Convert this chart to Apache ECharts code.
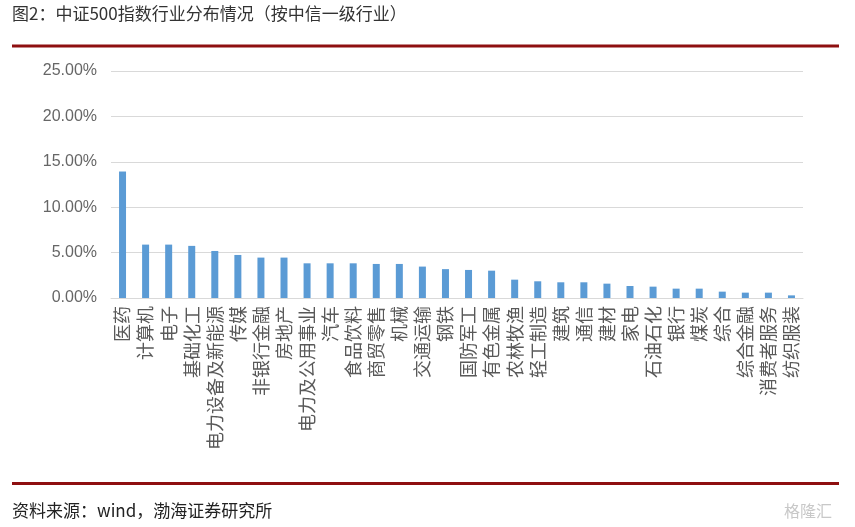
<!DOCTYPE html>
<html>
<head>
<meta charset="utf-8">
<script src="https://cdn.jsdelivr.net/npm/echarts@6/dist/echarts.min.js"></script>
<style>
html,body{margin:0;padding:0;background:#fff;}
#chart{width:855px;height:527px;}
</style>
</head>
<body>
<div id="chart"></div>
<script>
var titleText = '图2：中证500指数行业分布情况（按中信一级行业）';
var sourceText = '资料来源：wind，渤海证券研究所';
var categories = ['医药','计算机','电子','基础化工','电力设备及新能源','传媒','非银行金融','房地产','电力及公用事业','汽车','食品饮料','商贸零售','机械','交通运输','钢铁','国防军工','有色金属','农林牧渔','轻工制造','建筑','通信','建材','家电','石油石化','银行','煤炭','综合','综合金融','消费者服务','纺织服装'];
var weights = [13.93,5.88,5.88,5.74,5.18,4.74,4.45,4.45,3.82,3.82,3.82,3.75,3.75,3.46,3.18,3.09,3.01,2.02,1.84,1.73,1.73,1.58,1.32,1.25,1.03,1.03,0.70,0.59,0.59,0.29];
var yTicks = {min:0, max:25, interval:5};

var chart = echarts.init(document.getElementById('chart'), null, {renderer:'canvas'});
var cjk = '"Noto Sans CJK SC", "Noto Sans", sans-serif';
chart.setOption({
  animation:false,
  backgroundColor:'#ffffff',
  grid:{left:111, right:52, top:71, bottom:229, containLabel:false},
  xAxis:{
    type:'category',
    data:categories,
    axisLine:{lineStyle:{color:'#d9d9d9', width:1}},
    axisTick:{show:false},
    axisLabel:{interval:0, rotate:90, margin:8, fontSize:18, color:'#595959', fontFamily:cjk}
  },
  yAxis:{
    type:'value',
    min:yTicks.min, max:yTicks.max, interval:yTicks.interval,
    axisLine:{show:false},
    axisTick:{show:false},
    splitLine:{lineStyle:{color:'#d9d9d9', width:1}},
    axisLabel:{margin:14, fontSize:16, color:'#666666', fontFamily:'"Liberation Sans", Arial, sans-serif',
      formatter:function(v){return v.toFixed(2)+'%';}}
  },
  series:[{
    type:'bar',
    data:weights,
    barWidth:7,
    itemStyle:{color:'#5B9BD5'}
  }],
  graphic:[
    {type:'text', left:12, top:5, style:{text:titleText, fontSize:17, fill:'#333333', fontFamily:cjk}},
    {type:'line', shape:{x1:12, y1:46, x2:839, y2:46}, style:{stroke:'#8E0F10', lineWidth:3}},
    {type:'line', shape:{x1:12, y1:483.5, x2:839, y2:483.5}, style:{stroke:'#8E0F10', lineWidth:3}},
    {type:'text', left:12, top:502, style:{text:sourceText, fontSize:17, fill:'#222222', fontFamily:cjk}},
    {type:'text', left:784, top:503, style:{text:'格隆汇', fontSize:16, fill:'#c8c8c8', fontFamily:cjk}}
  ]
});
</script>
</body>
</html>
